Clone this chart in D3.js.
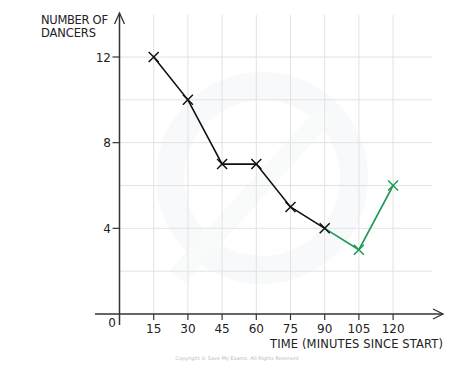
<!DOCTYPE html>
<html>
<head>
<meta charset="utf-8">
<script src="https://cdn.jsdelivr.net/npm/d3@7"></script>
<style>
  body { margin: 0; background: #fff; }
  svg text { font-family: "DejaVu Sans", sans-serif; fill: #222; }
</style>
</head>
<body>
<div id="chart"></div>
<script>
// datos
const times = [15, 30, 45, 60, 75, 90, 105, 120];
const dancers = [12, 10, 7, 7, 5, 4, 3, 6];
const blackIdx = [0, 1, 2, 3, 4, 5];
const greenIdx = [5, 6, 7];
const xTicks = [15, 30, 45, 60, 75, 90, 105, 120];
const yTicks = [4, 8, 12];
const yGrid = [2, 4, 6, 8, 10, 12];

const width = 474, height = 365;
const svg = d3.select('#chart').append('svg')
    .attr('width', width)
    .attr('height', height);

const x = d3.scaleLinear().domain([0, 120]).range([119.5, 393.1]);
const y = d3.scaleLinear().domain([0, 12]).range([314, 57]);
const gridRight = 432;
const gridTop = 15;

// marca de agua tenue
const wm = svg.append('g').attr('opacity', 0.3);
wm.append('circle')
    .attr('cx', 262).attr('cy', 178).attr('r', 92)
    .attr('fill', 'none').attr('stroke', '#e6eef5').attr('stroke-width', 28);
wm.append('path')
    .attr('d', 'M170,270 L320,105 L335,118 L185,283 Z')
    .attr('fill', '#eef2f5');

// cuadricula
svg.append('g').selectAll('line.v')
    .data(xTicks)
    .enter().append('line')
    .attr('x1', d => x(d)).attr('x2', d => x(d))
    .attr('y1', gridTop).attr('y2', y(0))
    .attr('stroke', '#e2e2e2').attr('stroke-width', 1);

svg.append('g').selectAll('line.h')
    .data(yGrid)
    .enter().append('line')
    .attr('x1', x(0)).attr('x2', gridRight)
    .attr('y1', d => y(d)).attr('y2', d => y(d))
    .attr('stroke', '#e2e2e2').attr('stroke-width', 1);

// ejes
const axisColor = '#333';
svg.append('line')
    .attr('x1', x(0)).attr('x2', x(0))
    .attr('y1', 325).attr('y2', 13)
    .attr('stroke', axisColor).attr('stroke-width', 1.5);
svg.append('path')
    .attr('d', `M${x(0) - 5},24 L${x(0)},13 L${x(0) + 5},24`)
    .attr('fill', 'none').attr('stroke', axisColor).attr('stroke-width', 1.3);

svg.append('line')
    .attr('x1', 95).attr('x2', 443)
    .attr('y1', y(0)).attr('y2', y(0))
    .attr('stroke', axisColor).attr('stroke-width', 1.5);
svg.append('path')
    .attr('d', `M433,${y(0) - 5} L443,${y(0)} L433,${y(0) + 5}`)
    .attr('fill', 'none').attr('stroke', axisColor).attr('stroke-width', 1.3);

// marcas y etiquetas del eje x
const xg = svg.append('g');
xg.selectAll('line')
    .data(xTicks)
    .enter().append('line')
    .attr('x1', d => x(d)).attr('x2', d => x(d))
    .attr('y1', y(0)).attr('y2', y(0) + 6)
    .attr('stroke', axisColor).attr('stroke-width', 1.2);
xg.selectAll('text')
    .data(xTicks)
    .enter().append('text')
    .attr('x', d => x(d))
    .attr('y', 333)
    .attr('text-anchor', 'middle')
    .attr('font-size', 12)
    .text(d => d);

svg.append('text')
    .attr('x', 112).attr('y', 327)
    .attr('text-anchor', 'middle')
    .attr('font-size', 12)
    .text('0');

// marcas y etiquetas del eje y
const yg = svg.append('g');
yg.selectAll('line')
    .data(yTicks)
    .enter().append('line')
    .attr('x1', x(0) - 7).attr('x2', x(0))
    .attr('y1', d => y(d)).attr('y2', d => y(d))
    .attr('stroke', axisColor).attr('stroke-width', 1.2);
yg.selectAll('text')
    .data(yTicks)
    .enter().append('text')
    .attr('x', 111)
    .attr('y', d => y(d) + 4.5)
    .attr('text-anchor', 'end')
    .attr('font-size', 12)
    .text(d => d);

// titulos
svg.append('text')
    .attr('x', 41).attr('y', 24)
    .attr('font-size', 11.5)
    .attr('textLength', 67)
    .text('NUMBER OF');
svg.append('text')
    .attr('x', 41).attr('y', 37)
    .attr('font-size', 11.5)
    .attr('textLength', 55)
    .text('DANCERS');
svg.append('text')
    .attr('x', 270).attr('y', 348)
    .attr('font-size', 11.5)
    .attr('textLength', 173)
    .text('TIME (MINUTES SINCE START)');

// lineas
const line = d3.line()
    .x(i => x(times[i]))
    .y(i => y(dancers[i]));

svg.append('path')
    .attr('d', line(blackIdx))
    .attr('fill', 'none').attr('stroke', '#111').attr('stroke-width', 1.6);
svg.append('path')
    .attr('d', line(greenIdx))
    .attr('fill', 'none').attr('stroke', '#1e9a55').attr('stroke-width', 1.6);

// cruces
function drawCross(i, color) {
    const cx = x(times[i]), cy = y(dancers[i]), s = 5;
    svg.append('path')
        .attr('d', `M${cx - s},${cy - s} L${cx + s},${cy + s} M${cx - s},${cy + s} L${cx + s},${cy - s}`)
        .attr('stroke', color).attr('stroke-width', 1.5).attr('fill', 'none');
}
blackIdx.forEach(i => drawCross(i, '#111'));
[6, 7].forEach(i => drawCross(i, '#1e9a55'));

// copyright
svg.append('text')
    .attr('x', 237).attr('y', 360)
    .attr('text-anchor', 'middle')
    .attr('font-size', 5)
    .style('fill', '#bbb')
    .text('Copyright © Save My Exams. All Rights Reserved');
</script>
</body>
</html>
